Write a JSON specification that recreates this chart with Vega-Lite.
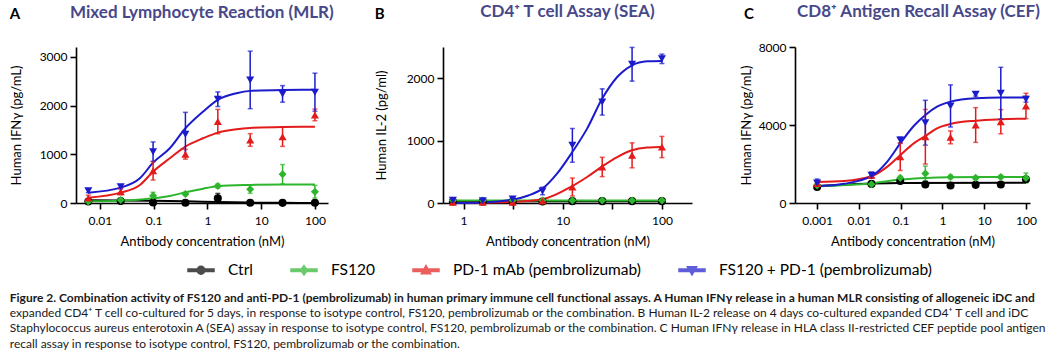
{
  "$schema": "https://vega.github.io/schema/vega-lite/v6.json",
  "padding": {"left": 9, "top": 3, "right": 5, "bottom": 2},
  "datasets": {
    "pts": [
      {"p":"A","s":"Ctrl","x":0.0061,"y":30,"e":10},{"p":"A","s":"Ctrl","x":0.0244,"y":40,"e":10},{"p":"A","s":"Ctrl","x":0.0977,"y":10,"e":10},{"p":"A","s":"Ctrl","x":0.39,"y":5,"e":10},{"p":"A","s":"Ctrl","x":1.5625,"y":96,"e":100},{"p":"A","s":"Ctrl","x":6.25,"y":5,"e":10},{"p":"A","s":"Ctrl","x":25,"y":3,"e":10},{"p":"A","s":"Ctrl","x":100,"y":5,"e":10},
      {"p":"A","s":"FS120","x":0.0061,"y":30,"e":20},{"p":"A","s":"FS120","x":0.0244,"y":62,"e":20},{"p":"A","s":"FS120","x":0.0977,"y":150,"e":70},{"p":"A","s":"FS120","x":0.39,"y":185,"e":30},{"p":"A","s":"FS120","x":1.5625,"y":349,"e":40},{"p":"A","s":"FS120","x":6.25,"y":281,"e":80},{"p":"A","s":"FS120","x":25,"y":589,"e":200},{"p":"A","s":"FS120","x":100,"y":232,"e":130},
      {"p":"A","s":"PD-1 mAb (pembrolizumab)","x":0.0061,"y":100,"e":60},{"p":"A","s":"PD-1 mAb (pembrolizumab)","x":0.0244,"y":230,"e":60},{"p":"A","s":"PD-1 mAb (pembrolizumab)","x":0.0977,"y":660,"e":190},{"p":"A","s":"PD-1 mAb (pembrolizumab)","x":0.39,"y":1000,"e":100},{"p":"A","s":"PD-1 mAb (pembrolizumab)","x":1.5625,"y":1670,"e":250},{"p":"A","s":"PD-1 mAb (pembrolizumab)","x":6.25,"y":1293,"e":130},{"p":"A","s":"PD-1 mAb (pembrolizumab)","x":25,"y":1361,"e":200},{"p":"A","s":"PD-1 mAb (pembrolizumab)","x":100,"y":1807,"e":120},
      {"p":"A","s":"FS120 + PD-1 (pembrolizumab)","x":0.0061,"y":253,"e":40},{"p":"A","s":"FS120 + PD-1 (pembrolizumab)","x":0.0244,"y":335,"e":40},{"p":"A","s":"FS120 + PD-1 (pembrolizumab)","x":0.0977,"y":1053,"e":200},{"p":"A","s":"FS120 + PD-1 (pembrolizumab)","x":0.39,"y":1410,"e":450},{"p":"A","s":"FS120 + PD-1 (pembrolizumab)","x":1.5625,"y":2129,"e":150},{"p":"A","s":"FS120 + PD-1 (pembrolizumab)","x":6.25,"y":2525,"e":590},{"p":"A","s":"FS120 + PD-1 (pembrolizumab)","x":25,"y":2238,"e":170},{"p":"A","s":"FS120 + PD-1 (pembrolizumab)","x":100,"y":2273,"e":390},

      {"p":"B","s":"Ctrl","x":0.78,"y":25,"e":5},{"p":"B","s":"Ctrl","x":1.5625,"y":25,"e":5},{"p":"B","s":"Ctrl","x":3.125,"y":25,"e":5},{"p":"B","s":"Ctrl","x":6.25,"y":25,"e":5},{"p":"B","s":"Ctrl","x":12.5,"y":30,"e":5},{"p":"B","s":"Ctrl","x":25,"y":30,"e":5},{"p":"B","s":"Ctrl","x":50,"y":30,"e":5},{"p":"B","s":"Ctrl","x":100,"y":30,"e":5},
      {"p":"B","s":"FS120","x":0.78,"y":40,"e":10},{"p":"B","s":"FS120","x":1.5625,"y":40,"e":10},{"p":"B","s":"FS120","x":3.125,"y":40,"e":10},{"p":"B","s":"FS120","x":6.25,"y":40,"e":10},{"p":"B","s":"FS120","x":12.5,"y":40,"e":10},{"p":"B","s":"FS120","x":25,"y":40,"e":10},{"p":"B","s":"FS120","x":50,"y":40,"e":10},{"p":"B","s":"FS120","x":100,"y":40,"e":10},
      {"p":"B","s":"PD-1 mAb (pembrolizumab)","x":0.78,"y":10,"e":5},{"p":"B","s":"PD-1 mAb (pembrolizumab)","x":1.5625,"y":10,"e":5},{"p":"B","s":"PD-1 mAb (pembrolizumab)","x":3.125,"y":12,"e":5},{"p":"B","s":"PD-1 mAb (pembrolizumab)","x":6.25,"y":32,"e":10},{"p":"B","s":"PD-1 mAb (pembrolizumab)","x":12.5,"y":256,"e":145},{"p":"B","s":"PD-1 mAb (pembrolizumab)","x":25,"y":577,"e":155},{"p":"B","s":"PD-1 mAb (pembrolizumab)","x":50,"y":764,"e":200},{"p":"B","s":"PD-1 mAb (pembrolizumab)","x":100,"y":897,"e":170},
      {"p":"B","s":"FS120 + PD-1 (pembrolizumab)","x":0.78,"y":45,"e":10},{"p":"B","s":"FS120 + PD-1 (pembrolizumab)","x":1.5625,"y":35,"e":10},{"p":"B","s":"FS120 + PD-1 (pembrolizumab)","x":3.125,"y":65,"e":15},{"p":"B","s":"FS120 + PD-1 (pembrolizumab)","x":6.25,"y":192,"e":60},{"p":"B","s":"FS120 + PD-1 (pembrolizumab)","x":12.5,"y":925,"e":270},{"p":"B","s":"FS120 + PD-1 (pembrolizumab)","x":25,"y":1619,"e":210},{"p":"B","s":"FS120 + PD-1 (pembrolizumab)","x":50,"y":2223,"e":270},{"p":"B","s":"FS120 + PD-1 (pembrolizumab)","x":100,"y":2310,"e":75},

      {"p":"C","s":"Ctrl","x":0.001,"y":823,"e":50},{"p":"C","s":"Ctrl","x":0.02,"y":980,"e":50},{"p":"C","s":"Ctrl","x":0.0977,"y":1132,"e":50},{"p":"C","s":"Ctrl","x":0.39,"y":947,"e":50},{"p":"C","s":"Ctrl","x":1.5625,"y":895,"e":50},{"p":"C","s":"Ctrl","x":6.25,"y":930,"e":50},{"p":"C","s":"Ctrl","x":25,"y":947,"e":50},{"p":"C","s":"Ctrl","x":100,"y":1220,"e":100},
      {"p":"C","s":"FS120","x":0.001,"y":900,"e":100},{"p":"C","s":"FS120","x":0.02,"y":962,"e":80},{"p":"C","s":"FS120","x":0.0977,"y":1287,"e":80},{"p":"C","s":"FS120","x":0.39,"y":1513,"e":380},{"p":"C","s":"FS120","x":1.5625,"y":1338,"e":80},{"p":"C","s":"FS120","x":6.25,"y":1287,"e":80},{"p":"C","s":"FS120","x":25,"y":1338,"e":80},{"p":"C","s":"FS120","x":100,"y":1287,"e":250},
      {"p":"C","s":"PD-1 mAb (pembrolizumab)","x":0.001,"y":1000,"e":100},{"p":"C","s":"PD-1 mAb (pembrolizumab)","x":0.02,"y":1426,"e":150},{"p":"C","s":"PD-1 mAb (pembrolizumab)","x":0.0977,"y":2367,"e":700},{"p":"C","s":"PD-1 mAb (pembrolizumab)","x":0.39,"y":3397,"e":1400},{"p":"C","s":"PD-1 mAb (pembrolizumab)","x":1.5625,"y":3366,"e":330},{"p":"C","s":"PD-1 mAb (pembrolizumab)","x":6.25,"y":4000,"e":890},{"p":"C","s":"PD-1 mAb (pembrolizumab)","x":25,"y":4169,"e":620},{"p":"C","s":"PD-1 mAb (pembrolizumab)","x":100,"y":4977,"e":650},
      {"p":"C","s":"FS120 + PD-1 (pembrolizumab)","x":0.001,"y":1030,"e":200},{"p":"C","s":"FS120 + PD-1 (pembrolizumab)","x":0.02,"y":1426,"e":150},{"p":"C","s":"FS120 + PD-1 (pembrolizumab)","x":0.0977,"y":3227,"e":150},{"p":"C","s":"FS120 + PD-1 (pembrolizumab)","x":0.39,"y":4117,"e":1150},{"p":"C","s":"FS120 + PD-1 (pembrolizumab)","x":1.5625,"y":4977,"e":1080},{"p":"C","s":"FS120 + PD-1 (pembrolizumab)","x":6.25,"y":5579,"e":100},{"p":"C","s":"FS120 + PD-1 (pembrolizumab)","x":25,"y":5630,"e":1330},{"p":"C","s":"FS120 + PD-1 (pembrolizumab)","x":100,"y":5322,"e":150}
    ],
    "fit": [
      {"p":"A","s":"Ctrl","x":0.0061,"y":55},{"p":"A","s":"Ctrl","x":0.0977,"y":45},{"p":"A","s":"Ctrl","x":0.39,"y":35},{"p":"A","s":"Ctrl","x":1.5625,"y":20},{"p":"A","s":"Ctrl","x":6.25,"y":8},{"p":"A","s":"Ctrl","x":25,"y":3},{"p":"A","s":"Ctrl","x":100,"y":0},
      {"p":"A","s":"FS120","x":0.0061,"y":35},{"p":"A","s":"FS120","x":0.0244,"y":48},{"p":"A","s":"FS120","x":0.0977,"y":96},{"p":"A","s":"FS120","x":0.2,"y":144},{"p":"A","s":"FS120","x":0.39,"y":219},{"p":"A","s":"FS120","x":0.835,"y":294},{"p":"A","s":"FS120","x":1.5625,"y":342},{"p":"A","s":"FS120","x":6.25,"y":370},{"p":"A","s":"FS120","x":25,"y":380},{"p":"A","s":"FS120","x":100,"y":380},
      {"p":"A","s":"PD-1 mAb (pembrolizumab)","x":0.0061,"y":110},{"p":"A","s":"PD-1 mAb (pembrolizumab)","x":0.0244,"y":212},{"p":"A","s":"PD-1 mAb (pembrolizumab)","x":0.0555,"y":370},{"p":"A","s":"PD-1 mAb (pembrolizumab)","x":0.0977,"y":643},{"p":"A","s":"PD-1 mAb (pembrolizumab)","x":0.2,"y":917},{"p":"A","s":"PD-1 mAb (pembrolizumab)","x":0.39,"y":1157},{"p":"A","s":"PD-1 mAb (pembrolizumab)","x":0.835,"y":1328},{"p":"A","s":"PD-1 mAb (pembrolizumab)","x":1.5625,"y":1444},{"p":"A","s":"PD-1 mAb (pembrolizumab)","x":3.49,"y":1513},{"p":"A","s":"PD-1 mAb (pembrolizumab)","x":6.25,"y":1540},{"p":"A","s":"PD-1 mAb (pembrolizumab)","x":25,"y":1561},{"p":"A","s":"PD-1 mAb (pembrolizumab)","x":100,"y":1565},
      {"p":"A","s":"FS120 + PD-1 (pembrolizumab)","x":0.0061,"y":212},{"p":"A","s":"FS120 + PD-1 (pembrolizumab)","x":0.0244,"y":315},{"p":"A","s":"FS120 + PD-1 (pembrolizumab)","x":0.0555,"y":507},{"p":"A","s":"FS120 + PD-1 (pembrolizumab)","x":0.0977,"y":828},{"p":"A","s":"FS120 + PD-1 (pembrolizumab)","x":0.2,"y":1122},{"p":"A","s":"FS120 + PD-1 (pembrolizumab)","x":0.39,"y":1533},{"p":"A","s":"FS120 + PD-1 (pembrolizumab)","x":0.835,"y":1876},{"p":"A","s":"FS120 + PD-1 (pembrolizumab)","x":1.5625,"y":2115},{"p":"A","s":"FS120 + PD-1 (pembrolizumab)","x":3.49,"y":2252},{"p":"A","s":"FS120 + PD-1 (pembrolizumab)","x":6.25,"y":2300},{"p":"A","s":"FS120 + PD-1 (pembrolizumab)","x":25,"y":2320},{"p":"A","s":"FS120 + PD-1 (pembrolizumab)","x":100,"y":2325},

      {"p":"B","s":"Ctrl","x":0.78,"y":28},{"p":"B","s":"Ctrl","x":100,"y":28},
      {"p":"B","s":"FS120","x":0.78,"y":40},{"p":"B","s":"FS120","x":100,"y":40},
      {"p":"B","s":"PD-1 mAb (pembrolizumab)","x":0.78,"y":1},{"p":"B","s":"PD-1 mAb (pembrolizumab)","x":1.5625,"y":4},{"p":"B","s":"PD-1 mAb (pembrolizumab)","x":3.125,"y":16},{"p":"B","s":"PD-1 mAb (pembrolizumab)","x":6.25,"y":59},{"p":"B","s":"PD-1 mAb (pembrolizumab)","x":12.5,"y":272},{"p":"B","s":"PD-1 mAb (pembrolizumab)","x":17.6,"y":417},{"p":"B","s":"PD-1 mAb (pembrolizumab)","x":25,"y":588},{"p":"B","s":"PD-1 mAb (pembrolizumab)","x":35.4,"y":737},{"p":"B","s":"PD-1 mAb (pembrolizumab)","x":50,"y":845},{"p":"B","s":"PD-1 mAb (pembrolizumab)","x":71,"y":888},{"p":"B","s":"PD-1 mAb (pembrolizumab)","x":100,"y":897},
      {"p":"B","s":"FS120 + PD-1 (pembrolizumab)","x":0.78,"y":1},{"p":"B","s":"FS120 + PD-1 (pembrolizumab)","x":1.5625,"y":10},{"p":"B","s":"FS120 + PD-1 (pembrolizumab)","x":3.125,"y":54},{"p":"B","s":"FS120 + PD-1 (pembrolizumab)","x":4.5,"y":120},{"p":"B","s":"FS120 + PD-1 (pembrolizumab)","x":6.25,"y":230},{"p":"B","s":"FS120 + PD-1 (pembrolizumab)","x":8.75,"y":470},{"p":"B","s":"FS120 + PD-1 (pembrolizumab)","x":12.5,"y":817},{"p":"B","s":"FS120 + PD-1 (pembrolizumab)","x":17.6,"y":1192},{"p":"B","s":"FS120 + PD-1 (pembrolizumab)","x":25,"y":1673},{"p":"B","s":"FS120 + PD-1 (pembrolizumab)","x":35.4,"y":2019},{"p":"B","s":"FS120 + PD-1 (pembrolizumab)","x":50,"y":2207},{"p":"B","s":"FS120 + PD-1 (pembrolizumab)","x":71,"y":2271},{"p":"B","s":"FS120 + PD-1 (pembrolizumab)","x":100,"y":2277},

      {"p":"C","s":"Ctrl","x":0.001,"y":870},{"p":"C","s":"Ctrl","x":0.02,"y":1000},{"p":"C","s":"Ctrl","x":0.0977,"y":1030},{"p":"C","s":"Ctrl","x":100,"y":1040},
      {"p":"C","s":"FS120","x":0.001,"y":860},{"p":"C","s":"FS120","x":0.02,"y":1014},{"p":"C","s":"FS120","x":0.0977,"y":1201},{"p":"C","s":"FS120","x":0.39,"y":1287},{"p":"C","s":"FS120","x":1.5625,"y":1321},{"p":"C","s":"FS120","x":100,"y":1338},
      {"p":"C","s":"PD-1 mAb (pembrolizumab)","x":0.001,"y":1081},{"p":"C","s":"PD-1 mAb (pembrolizumab)","x":0.0044,"y":1132},{"p":"C","s":"PD-1 mAb (pembrolizumab)","x":0.02,"y":1374},{"p":"C","s":"PD-1 mAb (pembrolizumab)","x":0.0473,"y":1853},{"p":"C","s":"PD-1 mAb (pembrolizumab)","x":0.0977,"y":2455},{"p":"C","s":"PD-1 mAb (pembrolizumab)","x":0.2056,"y":3057},{"p":"C","s":"PD-1 mAb (pembrolizumab)","x":0.39,"y":3433},{"p":"C","s":"PD-1 mAb (pembrolizumab)","x":0.743,"y":3829},{"p":"C","s":"PD-1 mAb (pembrolizumab)","x":1.5625,"y":4050},{"p":"C","s":"PD-1 mAb (pembrolizumab)","x":6.25,"y":4220},{"p":"C","s":"PD-1 mAb (pembrolizumab)","x":25,"y":4292},{"p":"C","s":"PD-1 mAb (pembrolizumab)","x":100,"y":4326},
      {"p":"C","s":"FS120 + PD-1 (pembrolizumab)","x":0.001,"y":860},{"p":"C","s":"FS120 + PD-1 (pembrolizumab)","x":0.0044,"y":983},{"p":"C","s":"FS120 + PD-1 (pembrolizumab)","x":0.02,"y":1374},{"p":"C","s":"FS120 + PD-1 (pembrolizumab)","x":0.0473,"y":2110},{"p":"C","s":"FS120 + PD-1 (pembrolizumab)","x":0.0977,"y":3057},{"p":"C","s":"FS120 + PD-1 (pembrolizumab)","x":0.2056,"y":3947},{"p":"C","s":"FS120 + PD-1 (pembrolizumab)","x":0.39,"y":4514},{"p":"C","s":"FS120 + PD-1 (pembrolizumab)","x":0.743,"y":4941},{"p":"C","s":"FS120 + PD-1 (pembrolizumab)","x":1.5625,"y":5198},{"p":"C","s":"FS120 + PD-1 (pembrolizumab)","x":6.25,"y":5373},{"p":"C","s":"FS120 + PD-1 (pembrolizumab)","x":25,"y":5410},{"p":"C","s":"FS120 + PD-1 (pembrolizumab)","x":100,"y":5410}
    ]
  },
  "title": {
    "text": "Figure 2. Combination activity of FS120 and anti-PD-1 (pembrolizumab) in human primary immune cell functional assays. A Human IFNγ release in a human MLR consisting of allogeneic iDC and",
    "subtitle": [
      "expanded CD4⁺ T cell co-cultured for 5 days, in response to isotype control, FS120, pembrolizumab or the combination. B Human IL-2 release on 4 days co-cultured expanded CD4⁺ T cell and iDC",
      "Staphylococcus aureus enterotoxin A (SEA) assay in response to isotype control, FS120, pembrolizumab or the combination. C Human IFNγ release in HLA class II-restricted CEF peptide pool antigen",
      "recall assay in response to isotype control, FS120, pembrolizumab or the combination."
    ],
    "orient": "bottom",
    "anchor": "start",
    "frame": "bounds",
    "offset": 14,
    "font": "Lato",
    "fontSize": 12,
    "fontWeight": "bold",
    "color": "#1a1a1a",
    "subtitleFont": "Lato",
    "subtitleFontSize": 12,
    "subtitleColor": "#1a1a1a",
    "subtitleLineHeight": 15.3,
    "subtitlePadding": 3
  },
  "spacing": 40,
  "hconcat": [
    {
      "width": 252,
      "height": 156,
      "layer": [
        {
          "data": {"name": "pts"},
          "transform": [{"filter": "datum.p === 'none'"}],
          "mark": {"type": "point", "filled": true, "opacity": 1},
          "encoding": {
            "x": {"field": "x", "type": "quantitative", "title": "Antibody concentration (nM)", "scale": {"type": "log", "domain": [0.0036, 175], "nice": false},
                  "axis": {"values": [0.01, 0.1, 1, 10, 100], "format": "~g"}},
            "y": {"field": "y", "type": "quantitative", "title": "Human IFNγ (pg/mL)", "scale": {"domain": [0, 3200], "nice": false},
                  "axis": {"values": [0, 1000, 2000, 3000], "format": "d", "titlePadding": 16}},
            "color": {"field": "s", "type": "nominal",
                      "scale": {"domain": ["Ctrl", "FS120", "PD-1 mAb (pembrolizumab)", "FS120 + PD-1 (pembrolizumab)"], "range": ["#000000", "#2db52d", "#e41b1b", "#1b1bcc"]},
                      "legend": {"orient": "none", "legendX": 111, "legendY": 209, "direction": "horizontal", "title": null, "labelFont": "Lato", "labelFontSize": 15.5, "labelColor": "#000000", "labelLimit": 400, "symbolSize": 676, "symbolOpacity": 1, "labelOffset": 13, "columnPadding": 35}},
            "shape": {"field": "s", "type": "nominal", "legend": null,
                      "scale": {"domain": ["Ctrl", "FS120", "PD-1 mAb (pembrolizumab)", "FS120 + PD-1 (pembrolizumab)"],
                                "range": [
                                  "M-1,-0.09L-0.3,-0.09L-0.3,0.09L-1,0.09ZM0.3,-0.09L1,-0.09L1,0.09L0.3,0.09ZM0.3,0A0.3,0.3,0,1,1,-0.3,0A0.3,0.3,0,1,1,0.3,0Z",
                                  "M-1,-0.09L-0.25,-0.09L-0.25,0.09L-1,0.09ZM0.25,-0.09L1,-0.09L1,0.09L0.25,0.09ZM0,-0.36L0.26,0L0,0.36L-0.26,0Z",
                                  "M-1,-0.09L-0.2,-0.09L-0.2,0.09L-1,0.09ZM0.2,-0.09L1,-0.09L1,0.09L0.2,0.09ZM0,-0.36L0.36,0.26L-0.36,0.26Z",
                                  "M-1,-0.09L-0.2,-0.09L-0.2,0.09L-1,0.09ZM0.2,-0.09L1,-0.09L1,0.09L0.2,0.09ZM0,0.36L0.36,-0.26L-0.36,-0.26Z"
                                ]}}
          }
        },
        {
          "data": {"name": "fit"},
          "transform": [{"filter": "datum.p === 'A'"}],
          "mark": {"type": "line", "interpolate": "monotone", "strokeWidth": 2},
          "encoding": {
            "x": {"field": "x", "type": "quantitative", "title": "Antibody concentration (nM)"},
            "y": {"field": "y", "type": "quantitative", "title": "Human IFNγ (pg/mL)"},
            "color": {"field": "s", "type": "nominal"}
          }
        },
        {
          "data": {"name": "pts"},
          "transform": [{"filter": "datum.p === 'A'"}],
          "mark": {"type": "errorbar", "ticks": true, "thickness": 1.5},
          "encoding": {
            "x": {"field": "x", "type": "quantitative", "title": "Antibody concentration (nM)"},
            "y": {"field": "y", "type": "quantitative", "title": "Human IFNγ (pg/mL)"},
            "yError": {"field": "e"},
            "color": {"field": "s", "type": "nominal"}
          }
        },
        {
          "data": {"name": "pts"},
          "transform": [{"filter": "datum.p === 'A'"}],
          "mark": {"type": "point", "filled": true, "size": 65, "opacity": 1},
          "encoding": {
            "x": {"field": "x", "type": "quantitative", "title": "Antibody concentration (nM)"},
            "y": {"field": "y", "type": "quantitative", "title": "Human IFNγ (pg/mL)"},
            "color": {"field": "s", "type": "nominal"},
            "shape": {"condition": [{"test": "datum.s === 'Ctrl'", "value": "circle"}, {"test": "datum.s === 'FS120'", "value": "diamond"}, {"test": "datum.s === 'PD-1 mAb (pembrolizumab)'", "value": "triangle-up"}], "value": "triangle-down"}
          }
        },
        {
          "data": {"values": [{"t": "A"}]},
          "mark": {"type": "text", "font": "Lato", "fontWeight": "bold", "fontSize": 15, "align": "left", "baseline": "alphabetic", "color": "#000000"},
          "encoding": {"x": {"datum": 0.000211}, "y": {"datum": 3774}, "text": {"field": "t"}}
        },
        {
          "data": {"values": [{"t": "Mixed Lymphocyte Reaction (MLR)"}]},
          "mark": {"type": "text", "font": "Lato", "fontWeight": "bold", "fontSize": 17, "align": "center", "baseline": "alphabetic", "color": "#47488a"},
          "encoding": {"x": {"datum": 0.79}, "y": {"datum": 3805}, "text": {"field": "t"}}
        }
      ]
    },
    {
      "spacing": 48,
      "hconcat": [
        {
          "width": 249,
          "height": 156,
          "layer": [
            {
              "data": {"name": "fit"},
              "transform": [{"filter": "datum.p === 'B'"}],
              "mark": {"type": "line", "interpolate": "monotone", "strokeWidth": 2},
              "encoding": {
                "x": {"field": "x", "type": "quantitative", "title": "Antibody concentration (nM)", "scale": {"type": "log", "domain": [0.62, 201], "nice": false},
                      "axis": {"values": [1, 3.1623, 10, 31.623, 100], "labelExpr": "datum.value == 1 || datum.value == 10 || datum.value == 100 ? format(datum.value, '~g') : ''"}},
                "y": {"field": "y", "type": "quantitative", "title": "Human IL-2 (pg/ml)", "scale": {"domain": [0, 2500], "nice": false},
                      "axis": {"values": [0, 500, 1000, 1500, 2000, 2500], "format": "d", "titlePadding": 18}},
                "color": {"field": "s", "type": "nominal"}
              }
            },
            {
              "data": {"name": "pts"},
              "transform": [{"filter": "datum.p === 'B'"}],
              "mark": {"type": "errorbar", "ticks": true, "thickness": 1.5},
              "encoding": {
                "x": {"field": "x", "type": "quantitative", "title": "Antibody concentration (nM)"},
                "y": {"field": "y", "type": "quantitative", "title": "Human IL-2 (pg/ml)"},
                "yError": {"field": "e"},
                "color": {"field": "s", "type": "nominal"}
              }
            },
            {
              "data": {"name": "pts"},
              "transform": [{"filter": "datum.p === 'B'"}],
              "mark": {"type": "point", "filled": true, "size": 65, "opacity": 1},
              "encoding": {
                "x": {"field": "x", "type": "quantitative", "title": "Antibody concentration (nM)"},
                "y": {"field": "y", "type": "quantitative", "title": "Human IL-2 (pg/ml)"},
                "color": {"field": "s", "type": "nominal"},
                "shape": {"condition": [{"test": "datum.s === 'Ctrl'", "value": "circle"}, {"test": "datum.s === 'FS120'", "value": "diamond"}, {"test": "datum.s === 'PD-1 mAb (pembrolizumab)'", "value": "triangle-up"}], "value": "triangle-down"}
              }
            },
            {
              "data": {"values": [{"t": "B"}]},
              "mark": {"type": "text", "font": "Lato", "fontWeight": "bold", "fontSize": 15, "align": "left", "baseline": "alphabetic", "color": "#000000"},
              "encoding": {"x": {"datum": 0.127}, "y": {"datum": 2949}, "text": {"field": "t"}}
            },
            {
              "data": {"values": [{"t": "CD4⁺ T cell Assay (SEA)"}]},
              "mark": {"type": "text", "font": "Lato", "fontWeight": "bold", "fontSize": 17, "align": "center", "baseline": "alphabetic", "color": "#47488a"},
              "encoding": {"x": {"datum": 11.14}, "y": {"datum": 2973}, "text": {"field": "t"}}
            }
          ]
        },
        {
          "width": 235,
          "height": 156,
          "layer": [
            {
              "data": {"name": "fit"},
              "transform": [{"filter": "datum.p === 'C'"}],
              "mark": {"type": "line", "interpolate": "monotone", "strokeWidth": 2},
              "encoding": {
                "x": {"field": "x", "type": "quantitative", "title": "Antibody concentration (nM)", "scale": {"type": "log", "domain": [0.000295, 125], "nice": false},
                      "axis": {"values": [0.001, 0.01, 0.1, 1, 10, 100], "format": "~g"}},
                "y": {"field": "y", "type": "quantitative", "title": "Human IFNγ (pg/mL)", "scale": {"domain": [0, 8000], "nice": false},
                      "axis": {"values": [0, 2000, 4000, 6000, 8000], "format": "d", "titlePadding": 5}},
                "color": {"field": "s", "type": "nominal"}
              }
            },
            {
              "data": {"name": "pts"},
              "transform": [{"filter": "datum.p === 'C'"}],
              "mark": {"type": "errorbar", "ticks": true, "thickness": 1.5},
              "encoding": {
                "x": {"field": "x", "type": "quantitative", "title": "Antibody concentration (nM)"},
                "y": {"field": "y", "type": "quantitative", "title": "Human IFNγ (pg/mL)"},
                "yError": {"field": "e"},
                "color": {"field": "s", "type": "nominal"}
              }
            },
            {
              "data": {"name": "pts"},
              "transform": [{"filter": "datum.p === 'C'"}],
              "mark": {"type": "point", "filled": true, "size": 65, "opacity": 1},
              "encoding": {
                "x": {"field": "x", "type": "quantitative", "title": "Antibody concentration (nM)"},
                "y": {"field": "y", "type": "quantitative", "title": "Human IFNγ (pg/mL)"},
                "color": {"field": "s", "type": "nominal"},
                "shape": {"condition": [{"test": "datum.s === 'Ctrl'", "value": "circle"}, {"test": "datum.s === 'FS120'", "value": "diamond"}, {"test": "datum.s === 'PD-1 mAb (pembrolizumab)'", "value": "triangle-up"}], "value": "triangle-down"}
              }
            },
            {
              "data": {"values": [{"t": "C"}]},
              "mark": {"type": "text", "font": "Lato", "fontWeight": "bold", "fontSize": 15, "align": "left", "baseline": "alphabetic", "color": "#000000"},
              "encoding": {"x": {"datum": 0.0000178}, "y": {"datum": 9436}, "text": {"field": "t"}}
            },
            {
              "data": {"values": [{"t": "CD8⁺ Antigen Recall Assay (CEF)"}]},
              "mark": {"type": "text", "font": "Lato", "fontWeight": "bold", "fontSize": 17, "align": "center", "baseline": "alphabetic", "color": "#47488a"},
              "encoding": {"x": {"datum": 0.267}, "y": {"datum": 9519}, "text": {"field": "t"}}
            }
          ]
        }
      ]
    }
  ],
  "config": {
    "font": "Lato",
    "view": {"stroke": null},
    "axis": {
      "grid": false,
      "domainColor": "#000000", "domainWidth": 1.6,
      "tickColor": "#000000", "tickWidth": 1.6, "tickSize": 6,
      "labelColor": "#000000", "labelFont": "Lato", "labelFontSize": 12, "labelPadding": 3,
      "titleColor": "#000000", "titleFont": "Lato", "titleFontSize": 13, "titleFontWeight": "normal"
    },
    "axisX": {"titlePadding": 9, "labelPadding": 6}
  }
}
